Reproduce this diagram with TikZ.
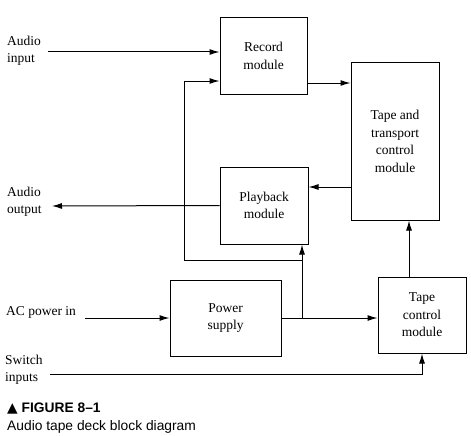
\documentclass[tikz,border=0pt]{standalone}
\usepackage{fontspec}
\setmainfont{Liberation Serif}
\setsansfont{Liberation Sans}
\newfontfamily\symfont{DejaVu Sans}
\usetikzlibrary{arrows.meta}
\begin{document}
\begin{tikzpicture}[x=1pt,y=-1pt,
  blk/.style={draw, line width=1pt, inner sep=0pt, align=center, font=\fontsize{13.5}{17.5}\selectfont},
  lbl/.style={anchor=west, align=left, inner sep=0pt, font=\fontsize{13.5}{17}\selectfont},
  conn/.style={line width=1pt, -{Latex[length=10pt,width=6pt]}},
  capt/.style={anchor=west, inner sep=0pt, font=\fontsize{13.8}{16}\selectfont\sffamily}]
\useasboundingbox (0,0) rectangle (471,436);
% blocks
\node[blk, minimum width=87pt, minimum height=76pt] (rec) at (263.5,56) {Record\\module};
\node[blk, minimum width=88pt, minimum height=157pt] (tape) at (395,141.5) {Tape and\\transport\\control\\module};
\node[blk, minimum width=88pt, minimum height=77pt] (play) at (264,205.5) {Playback\\module};
\node[blk, minimum width=111pt, minimum height=76pt] (pwr) at (225.5,318) {Power\\supply};
\node[blk, minimum width=88pt, minimum height=76pt] (tcm) at (422,315) {Tape\\control\\module};
% labels
\node[lbl] (lin) at (7,51) {Audio\\input};
\node[lbl] (lout) at (7,202) {Audio\\output};
\node[lbl] (lac) at (6,312) {AC power in};
\node[lbl] (lsw) at (5,370) {Switch\\inputs};
\node[capt] (fig) at (7,409) {{\symfont ▲} \bfseries FIGURE 8–1};
\node[capt] (cap) at (7,427) {Audio tape deck block diagram};
% coordinates
\coordinate (ain) at (48,52);
\coordinate (aout) at (52,206);
\coordinate (acin) at (85,318);
\coordinate (sw) at (50,374);
\coordinate (r2t) at (307,83);
\coordinate (t2p) at (351,187);
\coordinate (c2t) at (409,277);
\coordinate (br) at (302,318);
\coordinate (j2) at (302,260);
\coordinate (fb) at (184,81);
% connectors
\draw[conn] (ain) -- (ain -| rec.west);
\draw[conn] (r2t) -- (r2t -| tape.west);
\draw[conn] (t2p) -- (t2p -| play.east);
\draw[conn] (play.west) -- (aout);
\draw[conn] (c2t) -- (c2t |- tape.south);
\draw[conn] (acin) -- (pwr.west);
\draw[conn] (pwr.east) -- (pwr.east -| tcm.west);
\draw[conn] (br) -- (br |- play.south);
\draw[conn] (j2) -| (fb) -- (fb -| rec.west);
\draw[conn] (sw) -| (tcm.south);
\end{tikzpicture}
\end{document}
